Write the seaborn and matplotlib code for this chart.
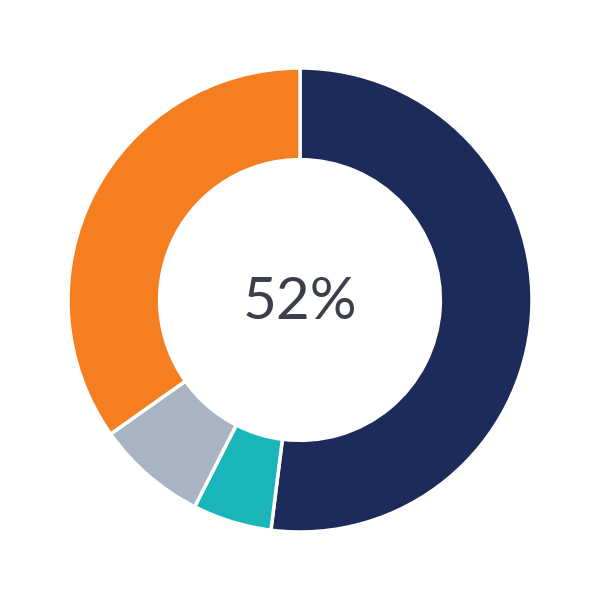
import matplotlib
matplotlib.use("Agg")
import matplotlib.pyplot as plt
import seaborn as sns

categories = ["Navy", "Teal", "Gray", "Orange"]
values = [52, 5.5, 7.7, 34.8]
colors = ["#1c2b5a", "#1ab5b8", "#a9b4c2", "#f47e20"]
center_label = "52%"

sns.set_theme(style="white")
plt.rcParams['font.family'] = ['Lato', 'DejaVu Sans']

fig = plt.figure(figsize=(6, 6), dpi=100)
ax = fig.add_axes([0, 0, 1, 1])
ax.pie(values, colors=colors, startangle=90, counterclock=False,
       radius=1.0, wedgeprops=dict(width=0.395, edgecolor="white", linewidth=2.5))
ax.text(0, -0.01, center_label, ha="center", va="center", fontsize=42,
        color="#3a3f4a", fontweight="normal")
lim = 300 / 232
ax.set_xlim(-lim, lim)
ax.set_ylim(-lim, lim)
ax.set_aspect("equal")
ax.axis("off")
fig.savefig("out.png", dpi=100, facecolor="white")
